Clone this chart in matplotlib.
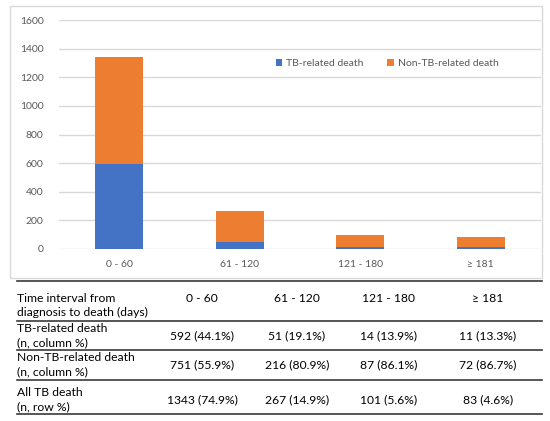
import numpy as np
import matplotlib.pyplot as plt
from matplotlib.patches import Rectangle
from matplotlib.lines import Line2D

plt.rcParams['font.family'] = ['Lato', 'DejaVu Sans']

# data
categories = ['0 - 60', '61 - 120', '121 - 180', '≥ 181']
tb_related = [592, 51, 14, 11]
non_tb_related = [751, 216, 87, 72]

table_header = ['Time interval from\ndiagnosis to death (days)'] + categories
table_rows = [
    ['TB-related death\n(n, column %)', '592 (44.1%)', '51 (19.1%)', '14 (13.9%)', '11 (13.3%)'],
    ['Non-TB-related death\n(n, column %)', '751 (55.9%)', '216 (80.9%)', '87 (86.1%)', '72 (86.7%)'],
    ['All TB death\n(n, row %)', '1343 (74.9%)', '267 (14.9%)', '101 (5.6%)', '83 (4.6%)'],
]

BLUE = '#4472C4'
ORANGE = '#ED7D31'
GRID = '#D9D9D9'
TXT = '#595959'

W, H = 550, 421
fig = plt.figure(figsize=(W / 100, H / 100), dpi=100)

# chart frame
fig.patches.append(Rectangle((10 / W, 1 - 278 / H), 532 / W, 272 / H,
                             transform=fig.transFigure, fill=False,
                             edgecolor=GRID, lw=1))

ax = fig.add_axes([59 / W, 1 - 249 / H, (541 - 59) / W, (249 - 20) / H])
x = np.arange(len(categories))
ax.bar(x, tb_related, width=0.4, color=BLUE, label='TB-related death', zorder=3)
ax.bar(x, non_tb_related, width=0.4, bottom=tb_related, color=ORANGE,
       label='Non-TB-related death', zorder=3)
ax.set_xlim(-0.5, len(categories) - 0.5)
ax.set_ylim(0, 1600)
ax.set_yticks(np.arange(0, 1601, 200))
ax.set_xticks(x)
ax.set_xticklabels(categories)
ax.yaxis.grid(True, color=GRID, lw=1, zorder=0)
for s in ax.spines.values():
    s.set_visible(False)
ax.tick_params(length=0, labelsize=7.5, labelcolor=TXT)
ax.tick_params(axis='y', pad=11)
ax.tick_params(axis='x', pad=8)
ax.legend(loc='upper left', bbox_to_anchor=(0.43, 0.87), ncol=2, frameon=False,
          fontsize=7.5, labelcolor=TXT, handlelength=0.6, handleheight=0.6,
          handletextpad=0.4, columnspacing=2.3)

# table
tax = fig.add_axes([0, 0, 1, 1])
tax.set_xlim(0, W)
tax.set_ylim(H, 0)
tax.axis('off')

col_x = [17, 202, 297, 389, 488]
row_y = [305.5, 335.5, 364.5, 399.5]
lines_y = [281, 321, 350, 380, 414]
LINE = '#3a3a3a'
for ly in lines_y:
    tax.add_line(Line2D([17, 542], [ly, ly], color=LINE, lw=1.2))

for r, row in enumerate([table_header] + table_rows):
    for c, cell in enumerate(row):
        if c == 0:
            tax.text(col_x[c], row_y[r], cell, ha='left', va='center',
                     fontsize=8.7, linespacing=1.3, color='black')
        else:
            tax.text(col_x[c], row_y[r] - (7 if r == 0 else 0), cell,
                     ha='center', va='center', fontsize=8.7, color='black')

fig.savefig('out.png', dpi=100)
